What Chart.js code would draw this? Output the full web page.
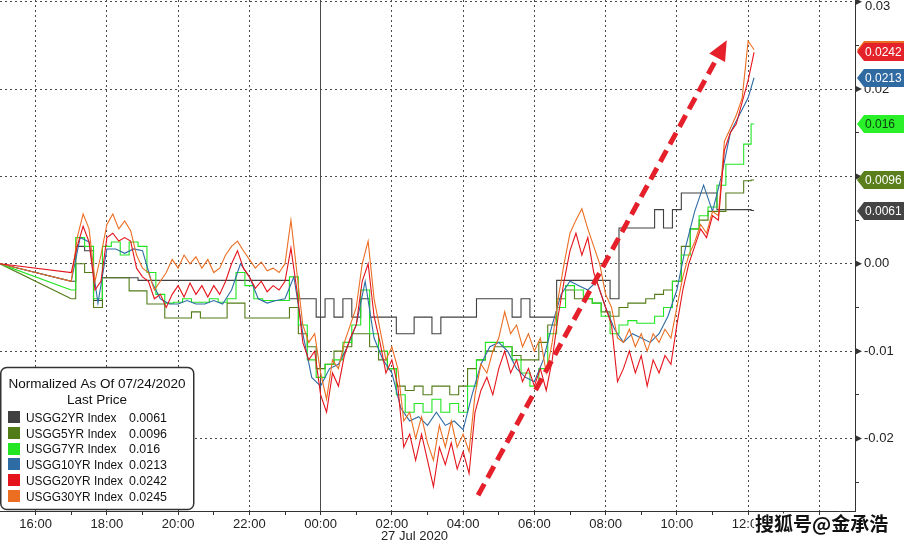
<!DOCTYPE html>
<html>
<head>
<meta charset="utf-8">
<script src="https://cdn.jsdelivr.net/npm/chart.js@4.4.1/dist/chart.umd.min.js"></script>
<style>
  html, body { margin: 0; padding: 0; background: #fff; }
  #wrap { width: 904px; height: 544px; }
</style>
</head>
<body>
<div id="wrap"><canvas id="chart" width="904" height="544"></canvas></div>
<script>
// normalised yield change since 07/24/2020 close; first point = start of the window
// 15-min samples for the short/belly tenors
const times15 = ['15:00',
  '17:00','17:15','17:30','17:45', '18:00','18:15','18:30','18:45', '19:00','19:15','19:30','19:45',
  '20:00','20:15','20:30','20:45', '21:00','21:15','21:30','21:45', '22:00','22:15','22:30','22:45',
  '23:00','23:15','23:30','23:45', '00:00','00:15','00:30','00:45', '01:00','01:15','01:30','01:45',
  '02:00','02:15','02:30','02:45', '03:00','03:15','03:30','03:45', '04:00','04:15','04:30','04:45',
  '05:00','05:15','05:30','05:45', '06:00','06:15','06:30','06:45', '07:00','07:15','07:30','07:45',
  '08:00','08:15','08:30','08:45', '09:00','09:15','09:30','09:45', '10:00','10:15','10:30','10:45',
  '11:00','11:15','11:30','11:45', '12:00','12:10'];

// 10-min samples for the long end (noisier)
const times10 = ['15:00',
  '17:00','17:10','17:20','17:30','17:40','17:50', '18:00','18:10','18:20','18:30','18:40','18:50',
  '19:00','19:10','19:20','19:30','19:40','19:50', '20:00','20:10','20:20','20:30','20:40','20:50',
  '21:00','21:10','21:20','21:30','21:40','21:50', '22:00','22:10','22:20','22:30','22:40','22:50',
  '23:00','23:10','23:20','23:30','23:40','23:50', '00:00','00:10','00:20','00:30','00:40','00:50',
  '01:00','01:10','01:20','01:30','01:40','01:50', '02:00','02:10','02:20','02:30','02:40','02:50',
  '03:00','03:10','03:20','03:30','03:40','03:50', '04:00','04:10','04:20','04:30','04:40','04:50',
  '05:00','05:10','05:20','05:30','05:40','05:50', '06:00','06:10','06:20','06:30','06:40','06:50',
  '07:00','07:10','07:20','07:30','07:40','07:50', '08:00','08:10','08:20','08:30','08:40','08:50',
  '09:00','09:10','09:20','09:30','09:40','09:50', '10:00','10:10','10:20','10:30','10:40','10:50',
  '11:00','11:10','11:20','11:30','11:40','11:50', '12:00','12:10'];

const usgg2 = [0,
  -0.0020, 0.0020, 0.0015, -0.0042,  -0.0016, -0.0016, -0.0016, -0.0016,  -0.0019, -0.0019, -0.0019, -0.0019,
  -0.0019, -0.0019, -0.0019, -0.0019,  -0.0019, -0.0019, -0.0019, -0.0019,  -0.0019, -0.0019, -0.0019, -0.0019,
  -0.0019, -0.0040, -0.0040, -0.0040,  -0.0061, -0.0040, -0.0061, -0.0040,  -0.0061, -0.0040, -0.0061, -0.0061,
  -0.0061, -0.0080, -0.0080, -0.0061,  -0.0061, -0.0080, -0.0061, -0.0061,  -0.0061, -0.0061, -0.0040, -0.0040,
  -0.0040, -0.0040, -0.0061, -0.0040,  -0.0061, -0.0061, -0.0061, -0.0019,  -0.0019, -0.0019, -0.0019, -0.0019,
  -0.0019, -0.0040, 0.0041, 0.0041,  0.0041, 0.0041, 0.0062, 0.0041,  0.0062, 0.0081, 0.0081, 0.0081,
  0.0081, 0.0062, 0.0062, 0.0062,  0.0062, 0.0061];

const usgg5 = [0,
  -0.0040, 0.0000, -0.0010, -0.0050,  -0.0016, -0.0016, -0.0016, -0.0031,  -0.0031, -0.0046, -0.0046, -0.0062,
  -0.0062, -0.0062, -0.0055, -0.0062,  -0.0062, -0.0062, -0.0045, -0.0045,  -0.0062, -0.0062, -0.0062, -0.0062,
  -0.0062, -0.0050, -0.0080, -0.0095,  -0.0120, -0.0115, -0.0100, -0.0095,  -0.0080, -0.0080, -0.0095, -0.0110,
  -0.0120, -0.0140, -0.0145, -0.0140,  -0.0150, -0.0140, -0.0140, -0.0150,  -0.0140, -0.0120, -0.0110, -0.0100,
  -0.0095, -0.0095, -0.0105, -0.0110,  -0.0110, -0.0090, -0.0070, -0.0040,  -0.0030, -0.0040, -0.0040, -0.0045,
  -0.0055, -0.0060, -0.0050, -0.0045,  -0.0045, -0.0040, -0.0035, -0.0030,  -0.0020, 0.0020, 0.0040, 0.0050,
  0.0060, 0.0060, 0.0081, 0.0081,  0.0095, 0.0096];

const usgg7 = [0,
  -0.0030, 0.0030, 0.0020, -0.0040,  0.0020, 0.0025, 0.0010, 0.0025,  0.0020, -0.0010, -0.0035, -0.0045,
  -0.0044, -0.0040, -0.0044, -0.0044,  -0.0040, -0.0044, -0.0040, -0.0010,  -0.0025, -0.0040, -0.0042, -0.0042,
  -0.0042, -0.0015, -0.0070, -0.0110,  -0.0130, -0.0115, -0.0110, -0.0090,  -0.0070, -0.0030, -0.0080, -0.0100,
  -0.0120, -0.0150, -0.0170, -0.0160,  -0.0170, -0.0155, -0.0170, -0.0160,  -0.0170, -0.0140, -0.0110, -0.0090,
  -0.0090, -0.0095, -0.0110, -0.0125,  -0.0140, -0.0120, -0.0080, -0.0050,  -0.0025, -0.0030, -0.0040, -0.0045,
  -0.0060, -0.0080, -0.0070, -0.0065,  -0.0068, -0.0068, -0.0060, -0.0050,  -0.0020, 0.0010, 0.0040, 0.0055,
  0.0065, 0.0090, 0.0114, 0.0114,  0.0137, 0.0160];

const usgg10 = [0,
  -0.0020, 0.0030, 0.0025, -0.0045,  0.0017, 0.0017, 0.0012, 0.0017,  0.0015, -0.0020, -0.0040, -0.0046,
  -0.0046, -0.0042, -0.0046, -0.0046,  -0.0042, -0.0046, -0.0030, 0.0000,  -0.0015, -0.0040, -0.0045, -0.0042,
  -0.0040, -0.0015, -0.0080, -0.0130,  -0.0140, -0.0120, -0.0115, -0.0095,  -0.0070, -0.0020, -0.0085, -0.0110,
  -0.0125, -0.0165, -0.0180, -0.0175,  -0.0185, -0.0170, -0.0185, -0.0180,  -0.0190, -0.0150, -0.0115, -0.0095,
  -0.0090, -0.0100, -0.0120, -0.0130,  -0.0135, -0.0110, -0.0070, -0.0035,  -0.0020, -0.0025, -0.0030, -0.0020,
  -0.0050, -0.0075, -0.0090, -0.0080,  -0.0085, -0.0090, -0.0080, -0.0060,  -0.0030, 0.0020, 0.0060, 0.0090,
  0.0060, 0.0100, 0.0150, 0.0170,  0.0190, 0.0213];

const usgg20 = [0,
  -0.0010, 0.0020, 0.0043, 0.0025, -0.0030, -0.0020,   0.0030, 0.0035, 0.0026, 0.0030, 0.0026, -0.0005,
  -0.0015, -0.0020, -0.0040, -0.0035, -0.0050, -0.0035,  -0.0025, -0.0038, -0.0022, -0.0035, -0.0025, -0.0038,
  -0.0025, -0.0035, -0.0020, 0.0000, 0.0015, -0.0005,  -0.0015, -0.0028, -0.0020, -0.0032, -0.0025, -0.0030,
  -0.0020, 0.0018, -0.0030, -0.0090, -0.0110, -0.0100,  -0.0150, -0.0170, -0.0125, -0.0140, -0.0105, -0.0085,
  -0.0070, -0.0020, 0.0000, -0.0060, -0.0090, -0.0125,  -0.0110, -0.0140, -0.0210, -0.0195, -0.0225, -0.0195,
  -0.0225, -0.0255, -0.0210, -0.0230, -0.0205, -0.0235,  -0.0215, -0.0240, -0.0170, -0.0145, -0.0130, -0.0150,
  -0.0120, -0.0100, -0.0125, -0.0110, -0.0135, -0.0120,  -0.0140, -0.0120, -0.0145, -0.0110, -0.0060, -0.0020,
  0.0015, 0.0035, 0.0010, 0.0030, -0.0010, -0.0030,  -0.0050, -0.0070, -0.0135, -0.0120, -0.0100, -0.0125,
  -0.0105, -0.0140, -0.0110, -0.0125, -0.0105, -0.0115,  -0.0070, -0.0030, 0.0000, 0.0020, 0.0040, 0.0030,
  0.0055, 0.0050, 0.0130, 0.0150, 0.0160, 0.0185,  0.0210, 0.0242];

const usgg30 = [0,
  -0.0020, 0.0030, 0.0057, 0.0040, -0.0020, 0.0010,   0.0045, 0.0057, 0.0040, 0.0049, 0.0038, 0.0010,
  -0.0005, -0.0010, -0.0030, -0.0020, -0.0010, 0.0005,  -0.0005, 0.0010, 0.0000, 0.0008, -0.0005, 0.0005,
  -0.0010, -0.0005, 0.0010, 0.0020, 0.0026, 0.0015,  0.0005, -0.0005, 0.0002, -0.0008, -0.0005, -0.0010,
  0.0000, 0.0050, -0.0010, -0.0070, -0.0090, -0.0080,  -0.0125, -0.0155, -0.0110, -0.0120, -0.0090, -0.0070,
  -0.0050, 0.0000, 0.0026, -0.0040, -0.0075, -0.0110,  -0.0095, -0.0120, -0.0180, -0.0170, -0.0200, -0.0175,
  -0.0205, -0.0225, -0.0185, -0.0210, -0.0180, -0.0210,  -0.0195, -0.0215, -0.0150, -0.0115, -0.0125, -0.0100,
  -0.0085, -0.0055, -0.0080, -0.0070, -0.0095, -0.0080,  -0.0100, -0.0085, -0.0125, -0.0090, -0.0040, 0.0000,
  0.0035, 0.0050, 0.0063, 0.0040, 0.0020, 0.0000,  -0.0035, -0.0050, -0.0085, -0.0090, -0.0075, -0.0095,
  -0.0080, -0.0100, -0.0080, -0.0090, -0.0075, -0.0085,  -0.0050, -0.0015, 0.0010, 0.0025, 0.0045, 0.0035,
  0.0060, 0.0055, 0.0140, 0.0155, 0.0170, 0.0190,  0.0255, 0.0245];

const seriesNames = ['USGG2YR Index', 'USGG5YR Index', 'USGG7YR Index', 'USGG10YR Index', 'USGG20YR Index', 'USGG30YR Index'];
const lastPrices = [0.0061, 0.0096, 0.016, 0.0213, 0.0242, 0.0245];
const lastPriceText = ['0.0061', '0.0096', '0.016', '0.0213', '0.0242', '0.0245'];
const seriesColors = ['#404040', '#527c18', '#22e622', '#2e6ca6', '#e5141c', '#ec6e22'];
const tagColors = ['#444444', '#5a7f1c', '#2af02a', '#2f6aa2', '#e3222a', '#ec6e22'];
const legendTitle = 'Normalized As Of 07/24/2020';
const legendSubtitle = 'Last Price';
const dateLabel = '27 Jul 2020';
const watermark = '搜狐号@金承浩';

const xTickHours = [1,2,3,4,5,6,7,8,9,10,11,12,13,14,15,16,17,18,19,20,21,22,23];
const yTickValues = [-0.025, -0.02, -0.015, -0.01, -0.005, 0, 0.005, 0.01, 0.015, 0.02, 0.025, 0.03];
const arrowFrom = { x: 13.42, y: -0.0265 };
const arrowTo = { x: 20.4, y: 0.0256 };

// hours since 15:00 on the 24th
const toHours = (s) => {
  const [h, m] = s.split(':').map(Number);
  return ((h - 15 + 24) % 24) + m / 60;
};
const isMajor = (v) => Math.abs(v * 100 - Math.round(v * 100)) < 1e-6;
const FONT = '"Liberation Sans", Arial, sans-serif';

const allSeries = [usgg2, usgg5, usgg7, usgg10, usgg20, usgg30];
const seriesTimes = [times15, times15, times15, times15, times10, times10];
const drawOrder = [5, 4, 3, 2, 0, 1];
const stepped = [true, true, true, false, false, false];

const datasets = [];
allSeries.forEach((arr, i) => {
  const xs = seriesTimes[i].map(toHours);
  const pts = arr.map((v, k) => ({ x: xs[k], y: v }));
  const base = {
    borderColor: seriesColors[i],
    backgroundColor: seriesColors[i],
    borderWidth: 1.1,
    pointRadius: 0,
    tension: 0,
    fill: false,
    order: drawOrder[i],
  };
  if (stepped[i]) {
    // straight join over the weekend gap, steps afterwards
    datasets.push({ ...base, label: seriesNames[i] + ' gap', data: pts.slice(0, 2) });
    datasets.push({ ...base, label: seriesNames[i], data: pts.slice(1), stepped: 'middle' });
  } else {
    datasets.push({ ...base, label: seriesNames[i], data: pts });
  }
});

// extra drawing: axis pointers, last price tags, legend box, arrow, notes
const decorPlugin = {
  id: 'decor',
  afterDraw(chart) {
    const ctx = chart.ctx;
    const xS = chart.scales.x;
    const yS = chart.scales.y;
    const right = chart.chartArea.right;
    ctx.save();

    // pointers on major y ticks
    ctx.fillStyle = '#333';
    yTickValues.filter(isMajor).forEach((v) => {
      const y = yS.getPixelForValue(v);
      ctx.beginPath();
      ctx.moveTo(right, y - 3.5);
      ctx.lineTo(right + 7, y);
      ctx.lineTo(right, y + 3.5);
      ctx.closePath();
      ctx.fill();
    });

    // top label (would be clipped at the edge)
    ctx.font = '13px ' + FONT;
    ctx.fillStyle = '#222';
    ctx.textAlign = 'left';
    ctx.textBaseline = 'middle';
    ctx.fillText('0.03', right + 10, yS.getPixelForValue(0.03) + 5);

    // last price tags
    [5, 0, 1, 2, 3, 4].forEach((i) => {
      const y = Math.round(yS.getPixelForValue(lastPrices[i]));
      const x0 = right + 2;
      ctx.beginPath();
      ctx.moveTo(x0, y);
      ctx.lineTo(x0 + 7, y - 9);
      ctx.lineTo(chart.width, y - 9);
      ctx.lineTo(chart.width, y + 9);
      ctx.lineTo(x0 + 7, y + 9);
      ctx.closePath();
      ctx.fillStyle = tagColors[i];
      ctx.fill();
      ctx.fillStyle = i === 2 ? '#0b3d0b' : '#fff';
      ctx.font = '12px ' + FONT;
      ctx.fillText(lastPriceText[i], x0 + 8, y + 1);
    });

    // dashed arrow
    const p1 = { x: xS.getPixelForValue(arrowFrom.x), y: yS.getPixelForValue(arrowFrom.y) };
    const p2 = { x: xS.getPixelForValue(arrowTo.x), y: yS.getPixelForValue(arrowTo.y) };
    const ang = Math.atan2(p2.y - p1.y, p2.x - p1.x);
    const head = 20;
    const bx = p2.x - Math.cos(ang) * head;
    const by = p2.y - Math.sin(ang) * head;
    ctx.strokeStyle = '#e5202a';
    ctx.fillStyle = '#e5202a';
    ctx.lineWidth = 5;
    ctx.setLineDash([13, 7]);
    ctx.beginPath();
    ctx.moveTo(p1.x, p1.y);
    ctx.lineTo(bx, by);
    ctx.stroke();
    ctx.setLineDash([]);
    ctx.beginPath();
    ctx.moveTo(p2.x, p2.y);
    ctx.lineTo(bx + Math.cos(ang + Math.PI / 2) * 9, by + Math.sin(ang + Math.PI / 2) * 9);
    ctx.lineTo(bx + Math.cos(ang - Math.PI / 2) * 9, by + Math.sin(ang - Math.PI / 2) * 9);
    ctx.closePath();
    ctx.fill();

    // legend box
    ctx.beginPath();
    ctx.roundRect(0.75, 367.5, 193, 142, 6);
    ctx.fillStyle = '#fff';
    ctx.fill();
    ctx.lineWidth = 1.5;
    ctx.strokeStyle = '#333';
    ctx.stroke();
    ctx.font = '13.5px ' + FONT;
    ctx.fillStyle = '#111';
    ctx.textAlign = 'center';
    ctx.fillText(legendTitle, 97, 384);
    ctx.fillText(legendSubtitle, 97, 400);
    ctx.textAlign = 'left';
    ctx.font = '13.5px ' + FONT;
    seriesNames.forEach((n, i) => {
      const y = 417 + i * 15.8;
      ctx.fillStyle = seriesColors[i];
      ctx.fillRect(8, Math.round(y - 6), 12, 12);
      ctx.fillStyle = '#111';
      const w = ctx.measureText(n).width * 0.88;
      ctx.fillText(n, 26, y + 1, w);
      ctx.fillText(lastPriceText[i], 129, y + 1, ctx.measureText(lastPriceText[i]).width * 0.92);
    });

    // date under the axis
    ctx.font = '13px ' + FONT;
    ctx.fillStyle = '#222';
    ctx.fillText(dateLabel, xS.getPixelForValue(11) - 11, 536);

    // watermark
    ctx.font = 'bold 19px "Noto Sans CJK SC", sans-serif';
    ctx.lineWidth = 4;
    ctx.strokeStyle = '#fff';
    ctx.lineJoin = 'round';
    ctx.strokeText(watermark, 755, 524);
    ctx.fillStyle = '#111';
    ctx.fillText(watermark, 755, 524);

    ctx.restore();
  },
};

Chart.defaults.font.family = FONT;
Chart.defaults.font.size = 13;

new Chart(document.getElementById('chart').getContext('2d'), {
  type: 'line',
  data: { datasets },
  options: {
    responsive: false,
    animation: false,
    devicePixelRatio: 1,
    layout: { padding: 0 },
    plugins: {
      legend: { display: false },
      tooltip: { enabled: false },
    },
    scales: {
      x: {
        type: 'linear',
        position: 'bottom',
        min: 0,
        max: 24,
        afterBuildTicks: (s) => { s.ticks = xTickHours.map((v) => ({ value: v })); },
        afterFit: (s) => { s.height = 33; s.paddingLeft = 0; s.paddingRight = 0; },
        ticks: {
          autoSkip: false,
          maxRotation: 0,
          padding: 2,
          color: '#222',
          callback: (v) => (v % 2 === 1 && v <= 21) ? String((15 + v) % 24).padStart(2, '0') + ':00' : '',
        },
        grid: {
          color: (c) => (c.tick && c.tick.value % 2 === 1) ? '#4a4a4a' : 'rgba(0,0,0,0)',
          lineWidth: 1,
          tickColor: '#333',
          tickLength: 4,
        },
        border: {
          color: '#333',
          width: 1,
          dash: (c) => (c.tick && c.tick.value === 9) ? [] : [2, 3],
        },
      },
      y: {
        type: 'linear',
        position: 'right',
        min: -0.0283,
        max: 0.0302,
        afterBuildTicks: (s) => { s.ticks = yTickValues.map((v) => ({ value: v })); },
        afterFit: (s) => { s.width = 49; s.paddingTop = 0; s.paddingBottom = 0; },
        ticks: {
          padding: 5,
          color: '#222',
          callback: (v) => (isMajor(v) && v < 0.029) ? v.toFixed(2) : '',
        },
        grid: {
          color: (c) => (c.tick && isMajor(c.tick.value)) ? '#4a4a4a' : 'rgba(0,0,0,0)',
          lineWidth: 1,
          tickColor: '#333',
          tickLength: 4,
        },
        border: { color: '#333', width: 1, dash: [2, 3] },
      },
    },
  },
  plugins: [decorPlugin],
});
</script>
</body>
</html>
